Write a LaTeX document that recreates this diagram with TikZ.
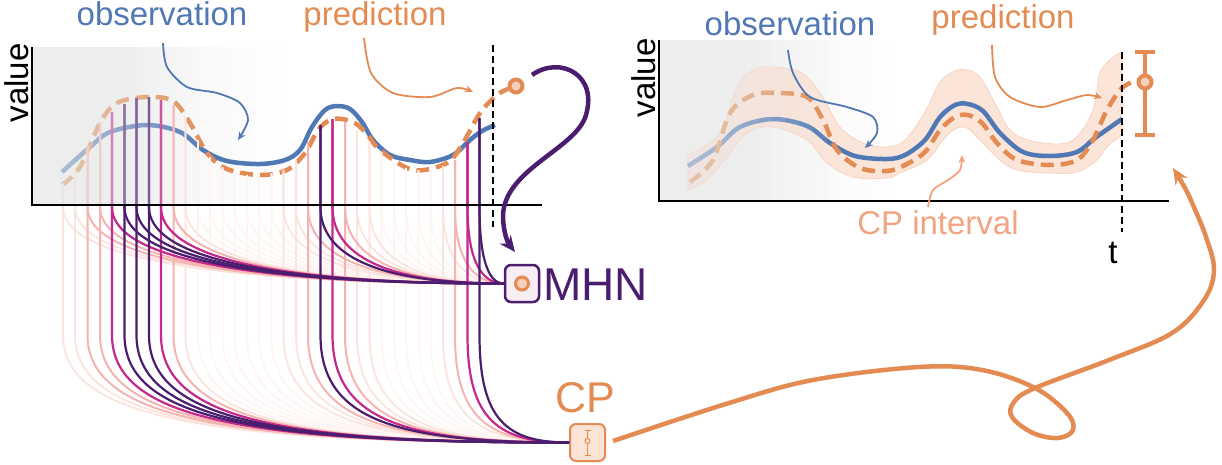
\documentclass[tikz,border=0pt]{standalone}
\usepackage{fontspec}
\setmainfont{Liberation Sans}
\usetikzlibrary{arrows.meta}
\definecolor{obsblue}{HTML}{4F78B5}
\definecolor{predor}{HTML}{E38B52}
\definecolor{cpor}{HTML}{F2A482}
\definecolor{bandfill}{HTML}{FBE4D8}
\definecolor{bandedge}{HTML}{F7D3C2}
\definecolor{hpurple}{HTML}{4A1D6E}
\definecolor{hmag}{HTML}{C4288A}
\definecolor{hpink}{HTML}{F5B4AF}
\definecolor{hlight}{HTML}{FBE3DE}
\definecolor{hfaint}{HTML}{FEF4F2}
\definecolor{peach}{HTML}{F4CFBC}
\definecolor{fadegray}{HTML}{EDEDED}
\definecolor{mhnfill}{HTML}{F7EEF3}
\definecolor{cpfill}{HTML}{FBE3D6}
\begin{document}
\begin{tikzpicture}[x=1pt,y=-1pt,
  lbl/.style={font=\fontsize{33}{38}\selectfont, inner sep=0pt, anchor=base},
  obscurve/.style={obsblue, line width=4.5pt},
  predcurve/.style={predor, line width=4.5pt, dash pattern=on 13pt off 7pt},
  pointer/.style={line width=1.8pt, -{Stealth[length=8pt,width=7pt]}},
  wfaint/.style={hfaint, line width=1.6pt},
  wlight/.style={hlight, line width=1.8pt},
  wpink/.style={hpink, line width=2pt},
  wmag/.style={hmag, line width=2.2pt},
  wdark/.style={hpurple, line width=2.2pt},
  axisline/.style={black, line width=1.5pt},
  tline/.style={black, line width=2pt, dash pattern=on 7pt off 4pt},
  mhnbox/.style={draw=hpurple, line width=2.5pt, fill=mhnfill, rounded corners=6pt, minimum width=34pt, minimum height=37pt, inner sep=0pt},
  cpbox/.style={draw=predor, line width=2pt, fill=cpfill, rounded corners=6pt, minimum width=35pt, minimum height=37pt, inner sep=0pt},
]
\useasboundingbox (0,0) rectangle (1222,464);

% panel backgrounds
\shade[left color=fadegray, right color=white] (32,47) rectangle (290,205);
\shade[left color=fadegray, right color=white] (659,40) rectangle (900,201);

% CP band (right panel)
\fill[bandfill, draw=bandedge, line width=0.8pt] plot[smooth, tension=0.6] coordinates {(688,155) (720,133) (737,87) (753,70) (770,67) (800,72) (820,93) (840,127) (863,143) (887,147) (905,140) (925,112) (940,82) (955,71) (967,70) (980,77) (997,107) (1013,133) (1043,143) (1073,140) (1093,110) (1100,73) (1113,57) (1122,53)}
  -- plot[smooth, tension=0.6] coordinates {(1122,135) (1107,147) (1097,160) (1077,172) (1050,173) (1017,170) (1000,160) (980,140) (967,128) (955,129) (943,140) (927,160) (900,173) (887,178) (853,177) (827,163) (807,140) (773,127) (747,133) (727,157) (707,180) (688,190)} -- cycle;

% curves left panel
\draw[obscurve] plot[smooth, tension=0.55] coordinates {(62,172) (90,147) (110,132) (147,125) (180,132) (203,150) (227,161) (260,164) (285,160) (300,150) (312,127) (325,110) (337,106) (350,109) (362,122) (373,140) (390,155) (410,160) (430,162) (453,155) (470,140) (482,131) (495,125)};
\draw[predcurve] plot[smooth, tension=0.55] coordinates {(62,185) (80,167) (100,123) (117,103) (147,97) (173,101) (190,123) (207,153) (227,169) (260,175) (287,170) (305,153) (318,130) (330,120) (342,119) (355,123) (367,134) (380,150) (413,170) (447,163) (463,143) (480,113) (497,95) (508,89)};

% curves right panel
\draw[obscurve] plot[smooth, tension=0.55] coordinates {(688,166) (717,147) (740,127) (773,119) (807,126) (830,143) (855,156) (887,159) (905,155) (925,140) (940,117) (955,105) (968,104) (983,111) (1000,133) (1023,152) (1050,156) (1077,152) (1095,138) (1122,119)};
\draw[predcurve] plot[smooth, tension=0.55] coordinates {(690,182) (713,160) (730,113) (753,95) (777,93) (807,97) (823,120) (837,150) (860,168) (887,171) (905,165) (925,152) (940,130) (955,117) (968,115) (982,123) (997,143) (1017,160) (1050,165) (1077,160) (1093,140) (1107,110) (1122,88) (1138,80)};

% memory nodes
\node[mhnbox] (mhn) at (522,283.5) {};
\node[cpbox] (cp) at (587.5,442.5) {};

% retrieval lines
\foreach \x/\t in {198/140, 210/157, 222.5/167, 234.5/172, 247/175, 259/175, 271.5/173, 381.5/152, 394/163, 406/168, 418.5/170, 430.5/169}{
  \draw[wfaint] (\x,\t) -- (\x,207) .. controls (\x,255) and ({\x+0.3*(505-\x)},283.5) .. (mhn.west);
  \draw[wfaint] (\x,\t) -- (\x,335) .. controls (\x,420) and ({\x+0.3*(570-\x)},442.5) .. (cp.west);
}
\foreach \x/\t in {63/183, 75/170, 185.5/117, 283.5/170, 296/160, 357/130, 369.5/142, 443/166}{
  \draw[wlight] (\x,\t) -- (\x,207) .. controls (\x,255) and ({\x+0.3*(505-\x)},283.5) .. (mhn.west);
  \draw[wlight] (\x,\t) -- (\x,335) .. controls (\x,420) and ({\x+0.3*(570-\x)},442.5) .. (cp.west);
}
\foreach \x/\t in {87.5/145, 100/122, 173.5/105, 308/142, 345/122, 455/160}{
  \draw[wpink] (\x,\t) -- (\x,207) .. controls (\x,255) and ({\x+0.3*(505-\x)},283.5) .. (mhn.west);
  \draw[wpink] (\x,\t) -- (\x,335) .. controls (\x,420) and ({\x+0.3*(570-\x)},442.5) .. (cp.west);
}
\foreach \x/\t in {112/112, 161/100, 332.5/119, 467.5/142}{
  \draw[wmag] (\x,\t) -- (\x,207) .. controls (\x,255) and ({\x+0.3*(505-\x)},283.5) .. (mhn.west);
  \draw[wmag] (\x,\t) -- (\x,335) .. controls (\x,420) and ({\x+0.3*(570-\x)},442.5) .. (cp.west);
}
\foreach \x/\t in {124.5/104, 136.5/98, 149/97, 320.5/125, 479.5/118}{
  \draw[wdark] (\x,\t) -- (\x,207) .. controls (\x,255) and ({\x+0.3*(505-\x)},283.5) .. (mhn.west);
  \draw[wdark] (\x,\t) -- (\x,335) .. controls (\x,420) and ({\x+0.3*(570-\x)},442.5) .. (cp.west);
}

% fading of older history
\foreach \i in {1,...,12}{
  \fill[fadegray, opacity=0.085] (32,47) rectangle ({32+14*\i},204);
  \fill[fadegray, opacity=0.085] (659,40) rectangle ({659+14*\i},200);
}

% axes
\draw[axisline] (32,47) -- (32,205) -- (542,205);
\draw[axisline] (659,40) -- (659,201) -- (1169,201);
\draw[tline] (493,45) -- (493,227);
\draw[tline] (1122,52) -- (1122,232);

% node contents
\draw[predor, line width=3pt, fill=peach] (mhn.center) circle (6.5pt);
\draw[predor, line width=1pt] (587.5,430) -- (587.5,455) (584.5,430) -- (590.5,430) (584.5,455) -- (590.5,455);
\draw[predor, line width=1pt, fill=cpfill] (587.5,441) circle (2.5pt);

% prediction markers
\draw[predor, line width=4pt, fill=peach] (516,86) circle (6.5pt);
\draw[predor, line width=4pt] (1145,52) -- (1145,135) (1135,52) -- (1155,52) (1135,135) -- (1155,135);
\draw[predor, line width=4pt, fill=peach] (1145,82) circle (6.5pt);

% labels
\node[lbl, obsblue] (obsL) at (162,25) {observation};
\node[lbl, predor] (predL) at (375,25) {prediction};
\node[lbl, obsblue] (obsR) at (790,35) {observation};
\node[lbl, predor] (predR) at (1003,28) {prediction};
\node[lbl, cpor] (cpi) at (938,234) {CP interval};
\node[lbl] (tlab) at (1113,263) {t};
\node[lbl, rotate=90, anchor=center] (valL) at (17,83) {value};
\node[lbl, rotate=90, anchor=center] (valR) at (644,78) {value};
\node[font=\fontsize{46}{50}\selectfont, text=hpurple, anchor=base west, inner sep=0pt] (mhnlab) at (543,300) {MHN};
\node[font=\fontsize{43}{48}\selectfont, text=predor, anchor=base west, inner sep=0pt] (cplab) at (555,412) {CP};

% pointer arrows
\coordinate (oaL) at (163,43);
\coordinate (paL) at (364,38);
\coordinate (oaR) at (788,50);
\coordinate (paR) at (992,45);
\coordinate (cpa) at (928,207);
\draw[pointer, obsblue] plot[smooth] coordinates {(oaL) (167,67) (187,87) (217,93) (240,103) (248,120) (238,140)};
\draw[pointer, predor] plot[smooth] coordinates {(paL) (371,73) (393,93) (430,97) (457,88) (473,92)};
\draw[pointer, obsblue] plot[smooth] coordinates {(oaR) (793,73) (810,97) (847,107) (873,117) (877,133) (865,148)};
\draw[pointer, predor] plot[smooth] coordinates {(paR) (995,77) (1010,97) (1040,107) (1067,100) (1087,95) (1102,98)};
\draw[pointer, cpor] plot[smooth] coordinates {(cpa) (933,190) (948,180) (960,170) (962,155)};

% MHN retrieval arrow
\coordinate (mstart) at (532,75);
\coordinate (mhnin) at (515,252);
\draw[hpurple, line width=4.5pt, -{Stealth[length=16pt,width=14pt]}] (mstart) .. controls (560,55) and (600,75) .. (585,118) .. controls (572,150) and (505,170) .. (503,215) .. controls (503,232) and (508,243) .. (mhnin);

% CP output arrow
\coordinate (cpout) at (613,441);
\coordinate (cpin) at (1173,168);
\draw[predor, line width=4.5pt, -{Stealth[length=16pt,width=14pt]}] plot[smooth, tension=0.6] coordinates {(cpout) (729,403) (813,380) (919,367) (982,370) (1035,388) (1067,413) (1073,430) (1058,438) (1033,433) (1012,417) (1014,402) (1035,388) (1109,360) (1172,333) (1204,300) (1214,270) (1206,237) (1193,205) (1185,188) (cpin)};
\end{tikzpicture}
\end{document}
